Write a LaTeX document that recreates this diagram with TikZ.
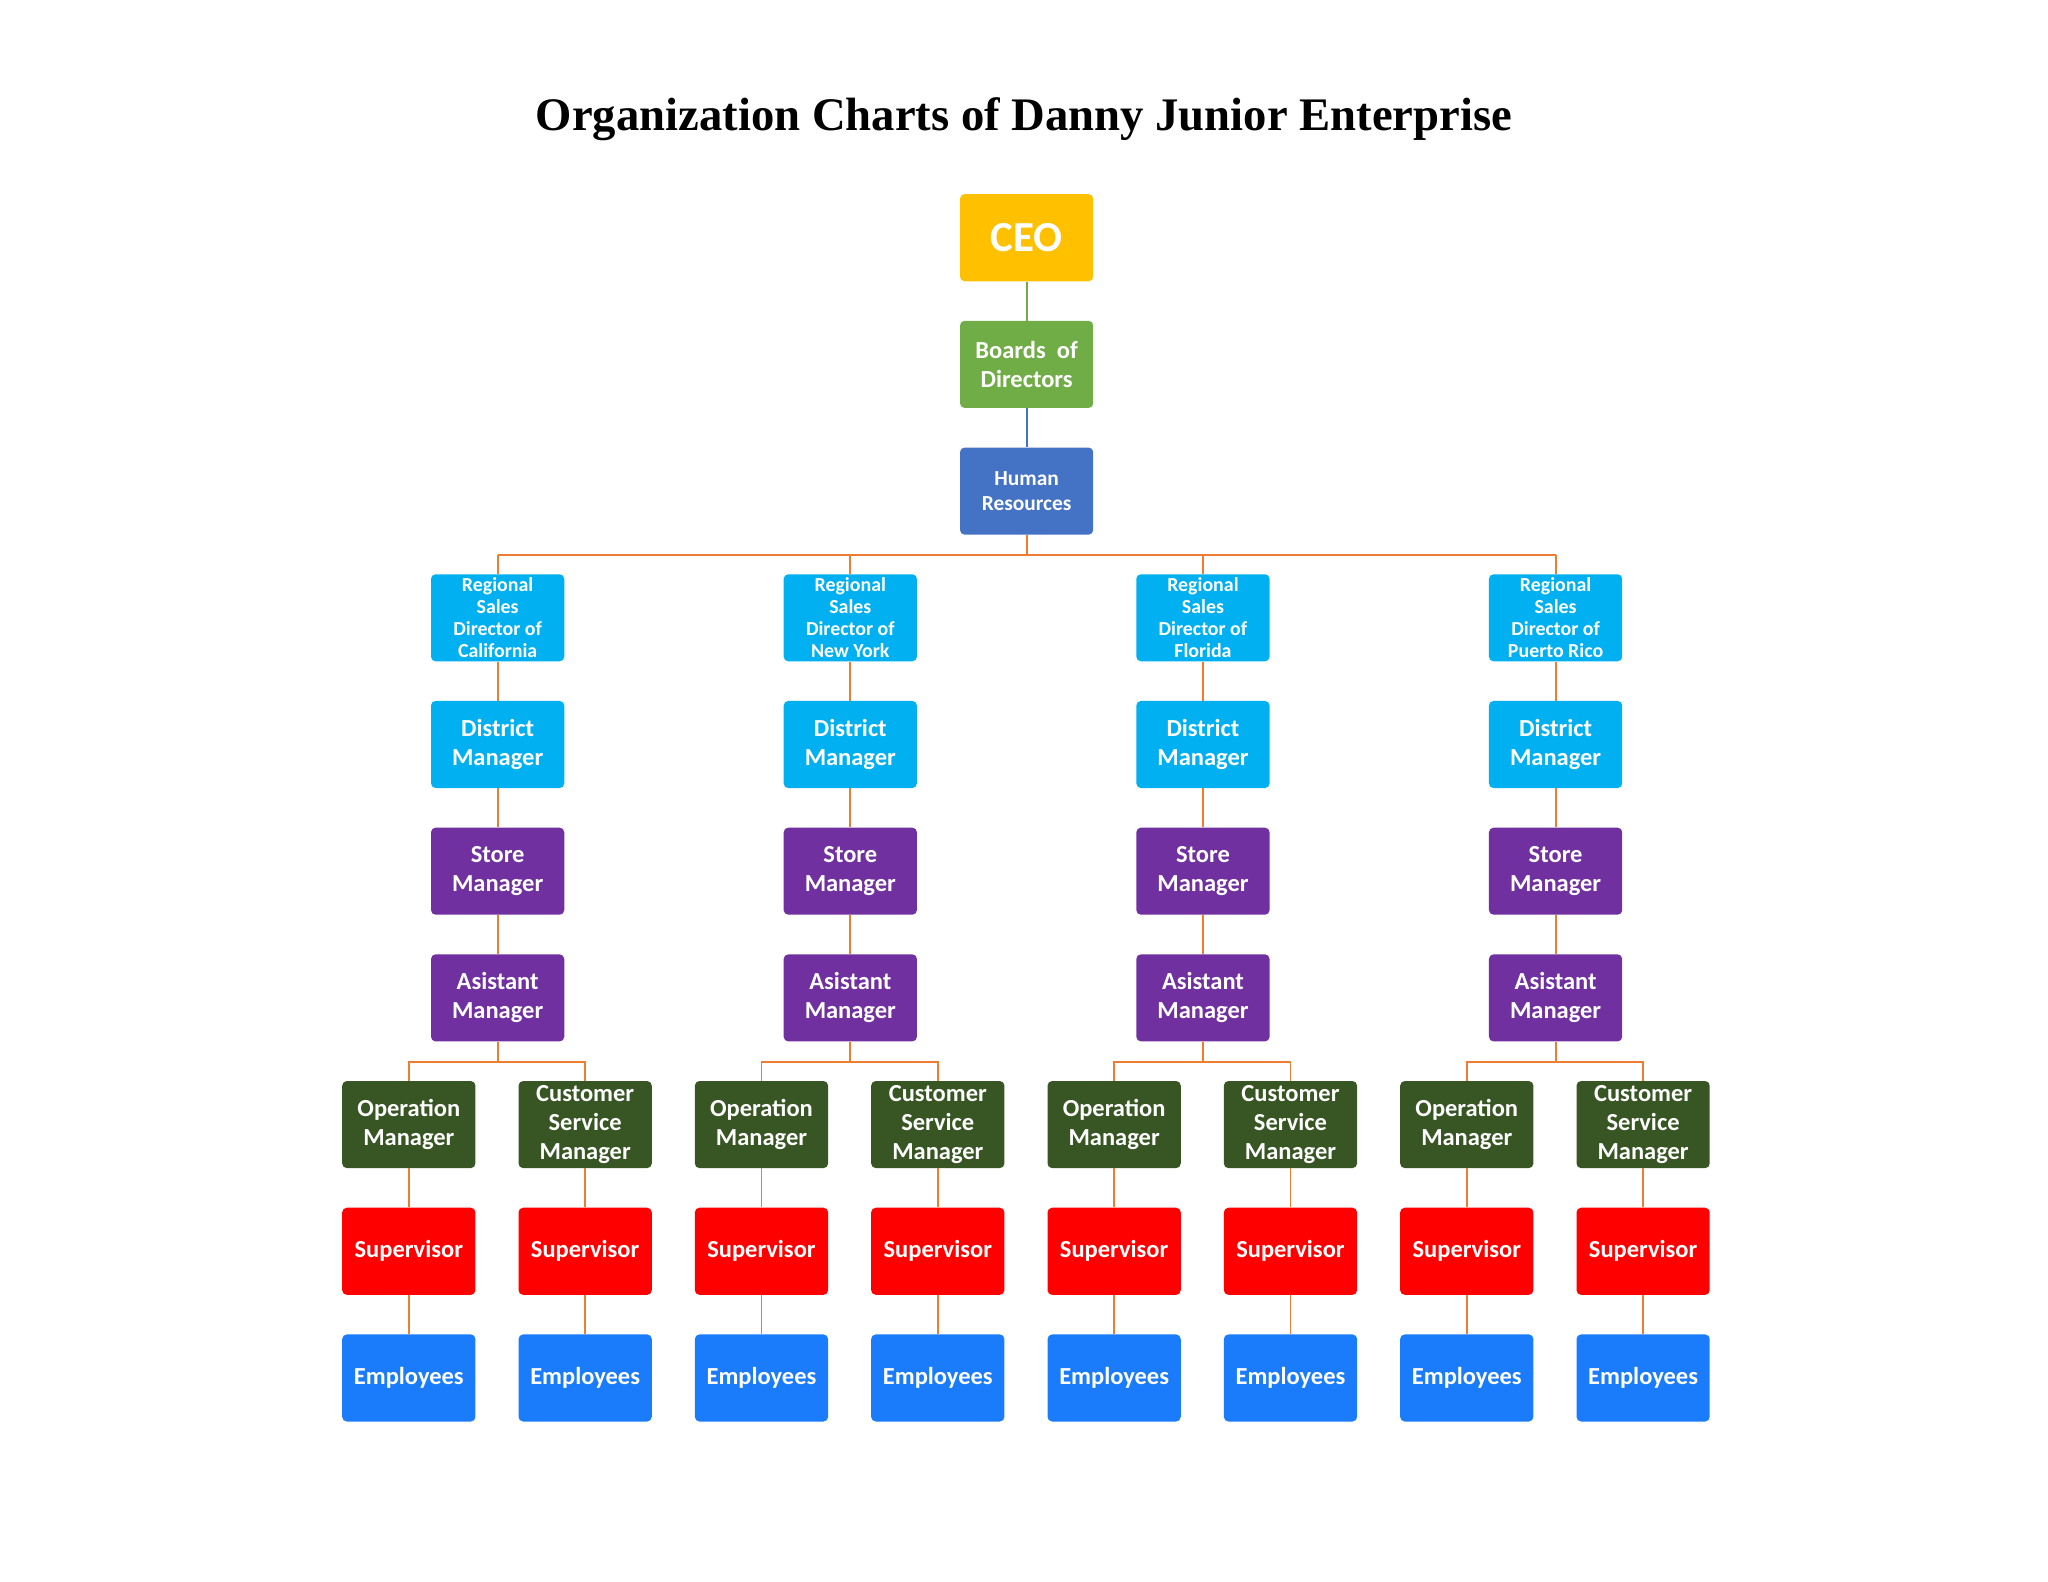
\documentclass[tikz,border=0pt]{standalone}
\usepackage{fontspec}
\setmainfont{Carlito}
\newfontfamily\titlefont{Liberation Serif}
\definecolor{ceoyellow}{HTML}{FFC000}
\definecolor{boardgreen}{HTML}{70AD47}
\definecolor{hrblue}{HTML}{4472C4}
\definecolor{regblue}{HTML}{00B0F0}
\definecolor{storepurple}{HTML}{7030A0}
\definecolor{opgreen}{HTML}{375623}
\definecolor{suprred}{HTML}{FF0000}
\definecolor{empblue}{HTML}{1A7CFA}
\definecolor{linkorange}{HTML}{ED7D31}
\tikzset{
  box/.style = {shape=rectangle, rounded corners=3pt, minimum width=3.06cm,
    minimum height=2.0cm, align=center, text=white, font=\bfseries\fontsize{16}{19}\selectfont,
    inner sep=1pt},
  small/.style = {font=\bfseries\fontsize{13}{14.5}\selectfont},
  link/.style = {draw=linkorange, line width=1.2pt}
}
\begin{document}
\begin{tikzpicture}[x=0.03cm,y=-0.03cm]
  \useasboundingbox (0,0) rectangle (1568,1211);
  \node (title) at (784,91) {\titlefont\bfseries\fontsize{30.5}{33}\selectfont Organization Charts of Danny Junior Enterprise};
  \node[box, fill=ceoyellow, font=\bfseries\fontsize{28}{30}\selectfont] (ceo) at (786,182) {CEO};
  \node[box, fill=boardgreen] (board) at (786,279) {Boards~~of\\Directors};
  \node[box, fill=hrblue, font=\bfseries\fontsize{14}{16}\selectfont] (hr) at (786,376) {Human\\Resources};
  \draw[draw=boardgreen, line width=1.2pt] (ceo) -- (board);
  \draw[draw=hrblue, line width=1.2pt] (board) -- (hr);
  \coordinate (hrbus) at (786,425);
  \draw[link] (hr) -- (hrbus);
  % one column per region
  \foreach \x/\reg/\n in {381/California/a, 651/New York/b, 921/Florida/c, 1191/Puerto Rico/d} {
    \node[box, small, fill=regblue] (reg\n) at (\x,473) {Regional\\Sales\\Director of\\\reg};
    \node[box, fill=regblue] (dist\n) at (\x,570) {District\\Manager};
    \node[box, fill=storepurple] (store\n) at (\x,667) {Store\\Manager};
    \node[box, fill=storepurple] (asst\n) at (\x,764) {Asistant\\Manager};
    \node[box, fill=opgreen] (op\n) at (\x-68,861) {Operation\\Manager};
    \node[box, fill=opgreen] (cs\n) at (\x+67,861) {Customer\\Service\\Manager};
    \node[box, fill=suprred] (supa\n) at (\x-68,958) {Supervisor};
    \node[box, fill=suprred] (supb\n) at (\x+67,958) {Supervisor};
    \node[box, fill=empblue] (empa\n) at (\x-68,1055) {Employees};
    \node[box, fill=empblue] (empb\n) at (\x+67,1055) {Employees};
    \coordinate (top\n) at (\x,425);
    \coordinate (bus\n) at (\x,813);
    \draw[link] (top\n) -- (reg\n);
    \draw[link] (reg\n) -- (dist\n);
    \draw[link] (dist\n) -- (store\n);
    \draw[link] (store\n) -- (asst\n);
    \draw[link] (asst\n) -- (bus\n);
    \draw[link] (op\n.north) |- (bus\n) -| (cs\n.north);
    \draw[link] (op\n) -- (supa\n);
    \draw[link] (cs\n) -- (supb\n);
    \draw[link] (supa\n) -- (empa\n);
    \draw[link] (supb\n) -- (empb\n);
  }
  \draw[link] (topa) -- (topd);
\end{tikzpicture}
\end{document}
